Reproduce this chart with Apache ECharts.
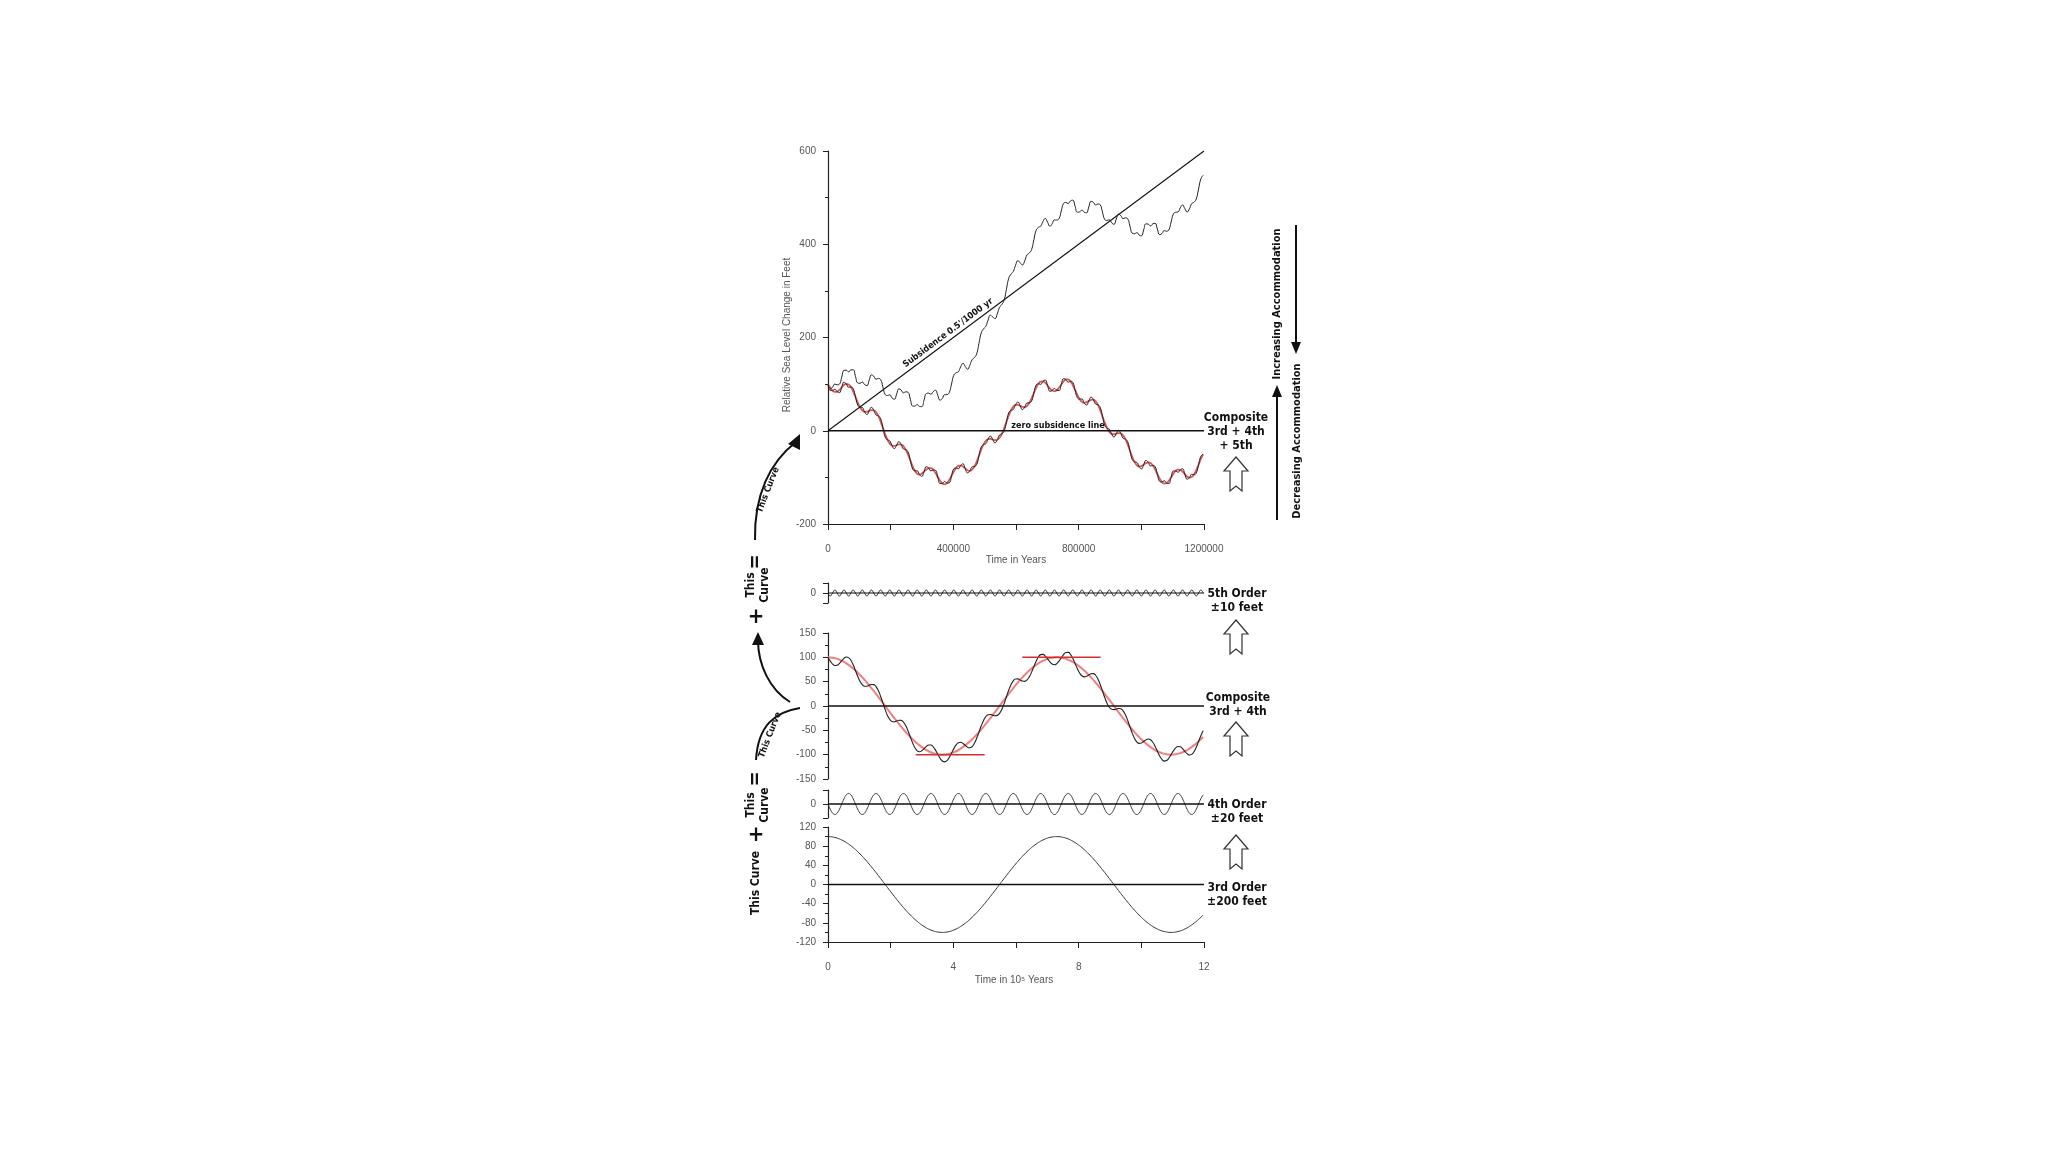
<!DOCTYPE html>
<html>
<head>
<meta charset="utf-8">
<script src="https://cdn.jsdelivr.net/npm/echarts@6/dist/echarts.min.js"></script>
<style>html,body{margin:0;background:#fff}#c{width:2048px;height:1152px}</style>
</head>
<body>
<div id="c"></div>
<script>
// sample step in units of 10^5 years
var timeStep = 0.073;
var subsidenceRate = 0.5 / 1000; // feet per year

// 3rd order cycle, +-100 ft
var third = [100,99.8,99.2,98.2,96.9,95.1,93,90.5,87.6,84.4,80.9,77.1,72.9,68.5,63.7,58.8,53.6,48.2,42.6,36.8,30.9,24.9,18.7,12.5,6.3,0,
 -6.3,-12.5,-18.7,-24.9,-30.9,-36.8,-42.6,-48.2,-53.6,-58.8,-63.7,-68.5,-72.9,-77.1,-80.9,-84.4,-87.6,-90.5,-93,-95.1,-96.9,-98.2,-99.2,-99.8,-100,
 -99.8,-99.2,-98.2,-96.9,-95.1,-93,-90.5,-87.6,-84.4,-80.9,-77.1,-72.9,-68.5,-63.7,-58.8,-53.6,-48.2,-42.6,-36.8,-30.9,-24.9,-18.7,-12.5,-6.3,0,
 6.3,12.5,18.7,24.9,30.9,36.8,42.6,48.2,53.6,58.8,63.7,68.5,72.9,77.1,80.9,84.4,87.6,90.5,93,95.1,96.9,98.2,99.2,99.8,100,
 99.8,99.2,98.2,96.9,95.1,93,90.5,87.6,84.4,80.9,77.1,72.9,68.5,63.7,58.8,53.6,48.2,42.6,36.8,30.9,24.9,18.7,12.5,6.3,0,
 -6.3,-12.5,-18.7,-24.9,-30.9,-36.8,-42.6,-48.2,-53.6,-58.8,-63.7,-68.5,-72.9,-77.1,-80.9,-84.4,-87.6,-90.5,-93,-95.1,-96.9,-98.2,-99.2,-99.8,-100,
 -99.8,-99.2,-98.2,-96.9,-95.1,-93,-90.5,-87.6,-84.4,-80.9,-77.1,-72.9,-68.5,-63.7];

// 4th order cycle
var fourth = [
 0,-7.5,-13,-15,-13,-7.5,0,7.5,13,15,13,7.5, 0,-7.5,-13,-15,-13,-7.5,0,7.5,13,15,13,7.5,
 0,-7.5,-13,-15,-13,-7.5,0,7.5,13,15,13,7.5, 0,-7.5,-13,-15,-13,-7.5,0,7.5,13,15,13,7.5,
 0,-7.5,-13,-15,-13,-7.5,0,7.5,13,15,13,7.5, 0,-7.5,-13,-15,-13,-7.5,0,7.5,13,15,13,7.5,
 0,-7.5,-13,-15,-13,-7.5,0,7.5,13,15,13,7.5, 0,-7.5,-13,-15,-13,-7.5,0,7.5,13,15,13,7.5,
 0,-7.5,-13,-15,-13,-7.5,0,7.5,13,15,13,7.5, 0,-7.5,-13,-15,-13,-7.5,0,7.5,13,15,13,7.5,
 0,-7.5,-13,-15,-13,-7.5,0,7.5,13,15,13,7.5, 0,-7.5,-13,-15,-13,-7.5,0,7.5,13,15,13,7.5,
 0,-7.5,-13,-15,-13,-7.5,0,7.5,13,15,13,7.5, 0,-7.5,-13,-15,-13,-7.5,0,7.5,13];

// 5th order cycle
var fifth = [
 0,-6,0,6, 0,-6,0,6, 0,-6,0,6, 0,-6,0,6, 0,-6,0,6, 0,-6,0,6, 0,-6,0,6, 0,-6,0,6, 0,-6,0,6, 0,-6,0,6,
 0,-6,0,6, 0,-6,0,6, 0,-6,0,6, 0,-6,0,6, 0,-6,0,6, 0,-6,0,6, 0,-6,0,6, 0,-6,0,6, 0,-6,0,6, 0,-6,0,6,
 0,-6,0,6, 0,-6,0,6, 0,-6,0,6, 0,-6,0,6, 0,-6,0,6, 0,-6,0,6, 0,-6,0,6, 0,-6,0,6, 0,-6,0,6, 0,-6,0,6,
 0,-6,0,6, 0,-6,0,6, 0,-6,0,6, 0,-6,0,6, 0,-6,0,6, 0,-6,0,6, 0,-6,0,6, 0,-6,0,6, 0,-6,0,6, 0,-6,0,6,
 0,-6,0,6, 0];

// red plateaus on composite 3rd+4th
var plateauHigh = [[6.2, 100], [8.7, 100]];
var plateauLow = [[2.8, -100], [5.0, -100]];

function pairs(arr, scale) {
  return arr.map(function (v, i) { return [i * timeStep * scale, v]; });
}
var comp34 = third.map(function (v, i) { return v + fourth[i]; });
var comp345 = comp34.map(function (v, i) { return v + fifth[i]; });
var withSub = comp345.map(function (v, i) { return v + i * timeStep * 100000 * subsidenceRate; });

var chart = echarts.init(document.getElementById('c'));
var lblStyle = { color: '#555', fontSize: 10, fontFamily: 'Liberation Sans' };
var axLine = { lineStyle: { color: '#222', width: 1.2 } };
function yAx(g, min, max, step, onlyZero) {
  return {
    gridIndex: g, type: 'value', min: min, max: max, interval: step,
    axisLine: Object.assign({ show: true }, axLine), splitLine: { show: false },
    axisTick: { show: true, length: 5, lineStyle: { color: '#222' } },
    minorTick: { show: !onlyZero, length: 3, splitNumber: 2, lineStyle: { color: '#222' } },
    axisLabel: Object.assign({ margin: 12, formatter: function (v) { return onlyZero && v !== 0 ? '' : v; } }, lblStyle)
  };
}
function xAx(g, max, show) {
  return { gridIndex: g, type: 'value', min: 0, max: max, show: show, interval: max / 6,
    axisLine: Object.assign({ onZero: false }, axLine), splitLine: { show: false },
    axisTick: { length: 6, lineStyle: { color: '#222' } },
    axisLabel: Object.assign({ margin: 20, formatter: function (v) {
      var idx = Math.round(v / (max / 6));
      return idx % 2 === 0 ? String(v) : '';
    } }, lblStyle) };
}
function line(x, y, data, color, width, z) {
  return { type: 'line', xAxisIndex: x, yAxisIndex: y, data: data, showSymbol: false, smooth: true,
    lineStyle: { color: color, width: width }, z: z || 2, animation: false, silent: true };
}
function straight(x, y, data, color, width) {
  var s = line(x, y, data, color, width, 3); s.smooth = false; return s;
}

var bold = 'bold 12px "DejaVu Sans Condensed"';
function txt(x, y, s, opts) {
  return Object.assign({ type: 'text', x: x, y: y, style: { text: s, font: bold, fill: '#111', align: 'center', verticalAlign: 'middle', lineHeight: 14 } }, opts || {});
}
function small(x, y, s, rot, size) {
  return { type: 'text', x: x, y: y, rotation: rot || 0, style: { text: s, font: 'bold ' + (size || 9) + 'px "DejaVu Sans Condensed"', fill: '#111', align: 'center', verticalAlign: 'middle' } };
}
function upArrow(cx, top) {
  return { type: 'polygon', shape: { points: [[cx, top], [cx + 12, top + 14], [cx + 6, top + 14], [cx + 6, top + 34], [cx, top + 29], [cx - 6, top + 34], [cx - 6, top + 14], [cx - 12, top + 14]] },
    style: { fill: '#fff', stroke: '#333', lineWidth: 1.2 } };
}

chart.setOption({
  animation: false,
  grid: [
    { left: 828, top: 151, width: 376, height: 373 },
    { left: 828, top: 583, width: 376, height: 20 },
    { left: 828, top: 633, width: 376, height: 146 },
    { left: 828, top: 790, width: 376, height: 28 },
    { left: 828, top: 827, width: 376, height: 115 }
  ],
  xAxis: [xAx(0, 1200000, true), xAx(1, 12, false), xAx(2, 12, false), xAx(3, 12, false), xAx(4, 12, true)],
  yAxis: [yAx(0, -200, 600, 200), yAx(1, -20, 20, 20, true), yAx(2, -150, 150, 50), yAx(3, -20, 20, 20, true), yAx(4, -120, 120, 40)],
  series: [
    straight(0, 0, [[0, 0], [1200000, 0]], '#111', 1.3),
    straight(0, 0, [[0, 0], [1200000, 1200000 * subsidenceRate]], '#111', 1.1),
    line(0, 0, pairs(comp34, 100000), '#e05555', 1.8, 2),
    line(0, 0, pairs(comp345, 100000), '#222', 1, 3),
    line(0, 0, pairs(withSub, 100000), '#222', 1, 3),
    straight(1, 1, [[0, 0], [12, 0]], '#111', 1),
    line(1, 1, pairs(fifth, 1), '#333', 1),
    straight(2, 2, [[0, 0], [12, 0]], '#111', 1.3),
    line(2, 2, pairs(third, 1), '#f08080', 2),
    line(2, 2, pairs(comp34, 1), '#222', 1.1, 3),
    straight(2, 2, plateauHigh, '#d03030', 1.5),
    straight(2, 2, plateauLow, '#d03030', 1.5),
    straight(3, 3, [[0, 0], [12, 0]], '#111', 1.3),
    line(3, 3, pairs(fourth, 1), '#333', 1),
    straight(4, 4, [[0, 0], [12, 0]], '#111', 1.3),
    line(4, 4, pairs(third, 1), '#333', 1)
  ],
  graphic: [
    { type: 'text', x: 787, y: 335, rotation: Math.PI / 2, style: { text: 'Relative Sea Level Change in Feet', font: '10px "Liberation Sans"', fill: '#555', align: 'center', verticalAlign: 'middle' } },
    { type: 'text', x: 1016, y: 560, style: { text: 'Time in Years', font: '10px "Liberation Sans"', fill: '#555', align: 'center', verticalAlign: 'middle' } },
    { type: 'text', x: 1014, y: 980, style: { text: 'Time in 10\u2075 Years', font: '10px "Liberation Sans"', fill: '#555', align: 'center', verticalAlign: 'middle' } },
    small(948, 333, 'Subsidence 0.5\'/1000 yr', 0.64),
    small(1058, 426, 'zero subsidence line'),
    txt(1236, 432, 'Composite\n3rd + 4th\n+ 5th'),
    upArrow(1236, 457),
    txt(1237, 601, '5th Order\n\u00b110 feet'),
    upArrow(1236, 620),
    txt(1238, 705, 'Composite\n3rd + 4th'),
    upArrow(1236, 722),
    txt(1237, 812, '4th Order\n\u00b120 feet'),
    upArrow(1236, 835),
    txt(1237, 895, '3rd Order\n\u00b1200 feet'),
    small(1277, 304, 'Increasing Accommodation', Math.PI / 2, 11),
    small(1297, 441, 'Decreasing Accommodation', Math.PI / 2, 11),
    { type: 'line', shape: { x1: 1296, y1: 225, x2: 1296, y2: 346 }, style: { stroke: '#111', lineWidth: 2 } },
    { type: 'polygon', shape: { points: [[1291, 342], [1301, 342], [1296, 354]] }, style: { fill: '#111' } },
    { type: 'line', shape: { x1: 1277, y1: 520, x2: 1277, y2: 392 }, style: { stroke: '#111', lineWidth: 2 } },
    { type: 'polygon', shape: { points: [[1272, 397], [1282, 397], [1277, 385]] }, style: { fill: '#111' } },
    txt(756, 883, 'This Curve', { rotation: Math.PI / 2 }),
    small(756, 835, '+', 0, 22),
    txt(758, 805, 'This\nCurve', { rotation: Math.PI / 2 }),
    small(756, 779, '=', Math.PI / 2, 20),
    small(770, 735, 'This Curve', 1.2),
    { type: 'bezierCurve', shape: { x1: 756, y1: 760, x2: 800, y2: 708, cpx1: 758, cpy1: 725, cpx2: 775, cpy2: 712 }, style: { stroke: '#111', lineWidth: 2, fill: null } },
    { type: 'bezierCurve', shape: { x1: 790, y1: 702, x2: 758, y2: 640, cpx1: 770, cpy1: 690, cpx2: 758, cpy2: 665 }, style: { stroke: '#111', lineWidth: 2, fill: null } },
    { type: 'polygon', shape: { points: [[752, 645], [764, 645], [758, 632]] }, style: { fill: '#111' } },
    small(756, 617, '+', 0, 22),
    txt(758, 585, 'This\nCurve', { rotation: Math.PI / 2 }),
    small(756, 562, '=', Math.PI / 2, 20),
    small(768, 490, 'This Curve', 1.2),
    { type: 'bezierCurve', shape: { x1: 755, y1: 540, x2: 796, y2: 442, cpx1: 754, cpy1: 495, cpx2: 770, cpy2: 462 }, style: { stroke: '#111', lineWidth: 2, fill: null } },
    { type: 'polygon', shape: { points: [[788, 444], [800, 450], [800, 434]] }, style: { fill: '#111' } }
  ]
});
</script>
</body>
</html>
